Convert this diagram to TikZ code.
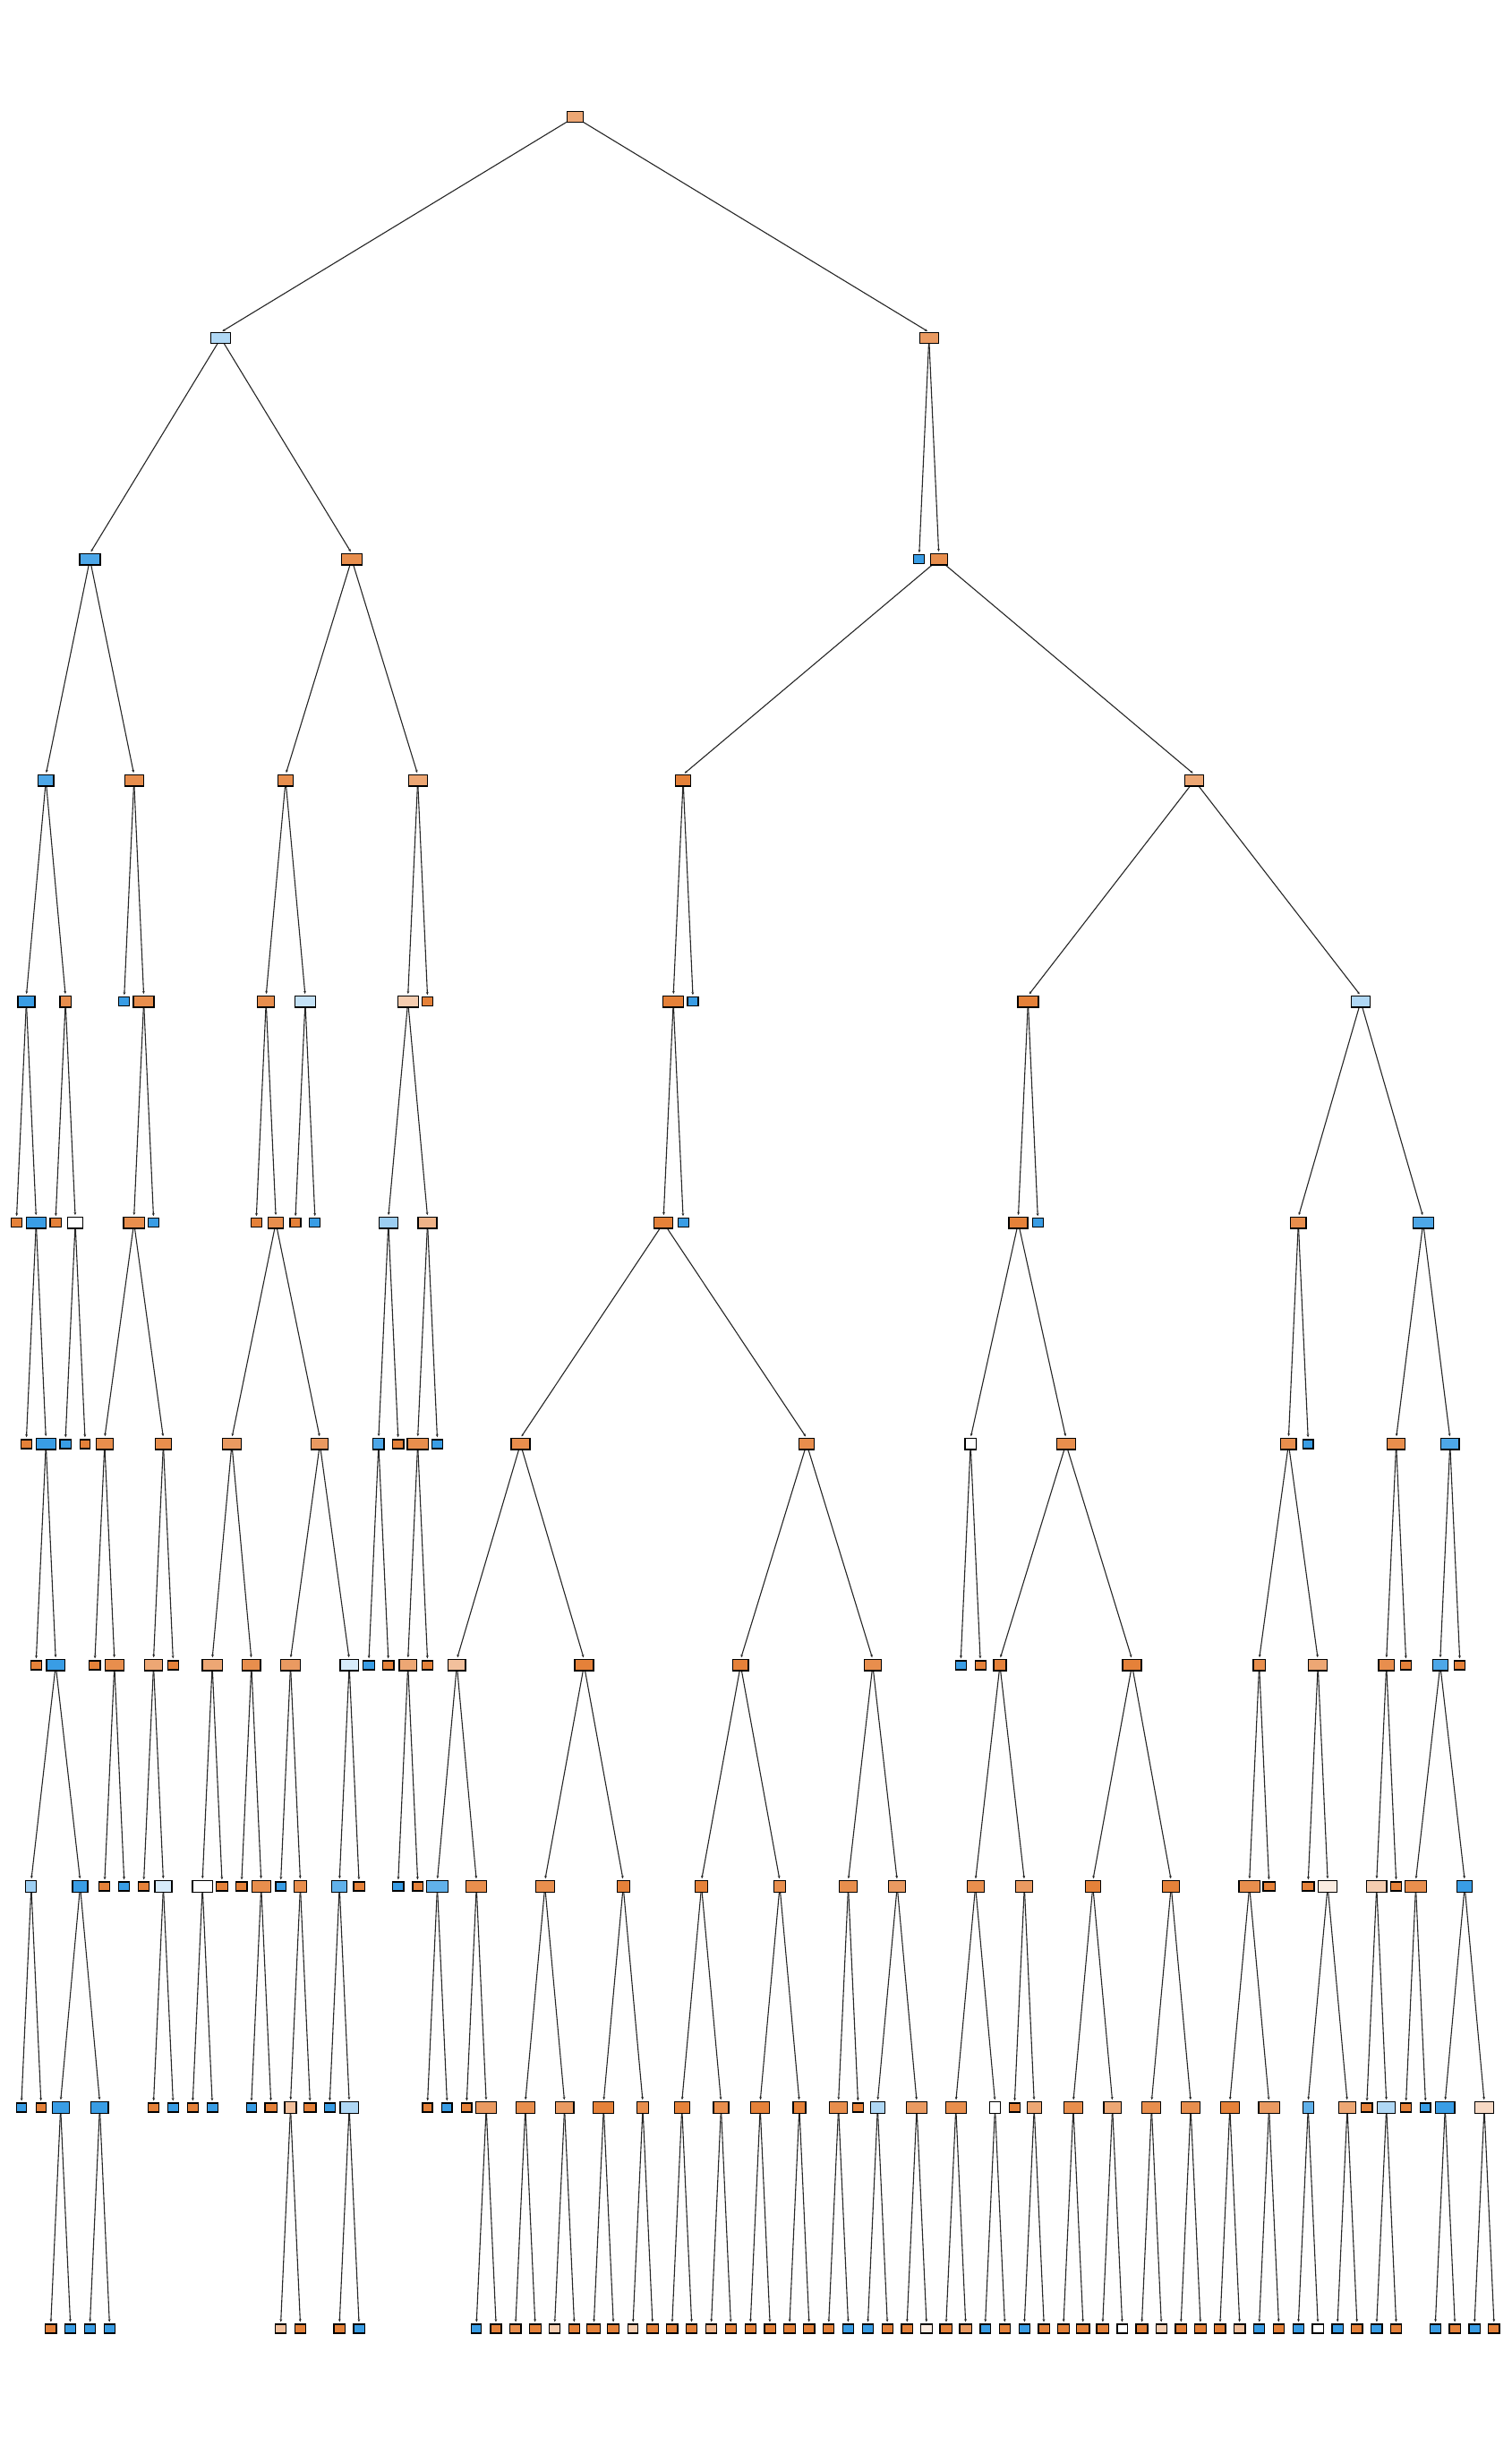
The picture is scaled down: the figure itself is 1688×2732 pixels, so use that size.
\documentclass[tikz,border=0pt]{standalone}
\usetikzlibrary{arrows.meta}
\definecolor{cO}{HTML}{E58139}
\definecolor{cO9}{HTML}{E88E4D}
\definecolor{cO8}{HTML}{EA9A61}
\definecolor{cO7}{HTML}{EDA774}
\definecolor{cO6}{HTML}{EFB388}
\definecolor{cO5}{HTML}{F2C09C}
\definecolor{cO4}{HTML}{F5CDB0}
\definecolor{cO3}{HTML}{F7D9C4}
\definecolor{cO2}{HTML}{FBECE1}
\definecolor{cW}{HTML}{FFFFFF}
\definecolor{cB2}{HTML}{D7EBFA}
\definecolor{cB3}{HTML}{C4E2F7}
\definecolor{cB4}{HTML}{B0D8F5}
\definecolor{cB5}{HTML}{9CCEF2}
\definecolor{cB8}{HTML}{61B1EA}
\definecolor{cB9}{HTML}{4DA7E8}
\definecolor{cB}{HTML}{399DE5}
\pgfdeclarelayer{paper}
\pgfdeclarelayer{edges}
\pgfsetlayers{paper,edges,main}
\tikzset{
  tn/.style={draw=black,line width=0.6pt,inner sep=0pt,rectangle},
  edge/.style={draw=black!85,line width=0.55pt,shorten >=1pt,-{Stealth[length=1.6pt,width=1.4pt]}}
}
\newcommand\tnI[5]{\node[tn,fill=#5,minimum width={#4*0.5pt},minimum height=6.15pt] (#1) at ({18.5+21.86*#2},{130.7+247.03*#3}) {};}
\newcommand\tnL[5]{\node[tn,fill=#5,minimum width={#4*0.5pt},minimum height=5pt] (#1) at ({18.5+21.86*#2},{130.7+247.03*#3}) {};}
\newcommand\tE[2]{\draw[edge] (#1.center) -- (#2.north);}
\begin{document}
\begin{tikzpicture}[x=0.5pt,y=-0.5pt]
\begin{pgfonlayer}{paper}
\fill[white] (0,0) rectangle (1688,2732);
\end{pgfonlayer}
\useasboundingbox (0,0) rectangle (1688,2732);
% level 0
\tnI{r}{28.53125}{0}{18}{cO7}
% level 1
\tnI{a}{10.4375}{1}{21.7}{cB4}
\tnI{b}{46.625}{1}{21}{cO8}
% level 2
\tnI{a1}{3.75}{2}{23}{cB9}
\tnI{a2}{17.125}{2}{23}{cO9}
\tnL{b1}{46.125}{2}{12}{cB}
\tnI{b2}{47.125}{2}{19}{cO9}
% level 3
\tnI{c29}{1.5}{3}{17.5}{cB9}
\tnI{c85}{6}{3}{21}{cO9}
\tnI{c182}{13.75}{3}{17.5}{cO9}
\tnI{c267}{20.5}{3}{21}{cO7}
\tnI{c438}{34.0625}{3}{17.5}{cO}
\tnI{c766}{60.1875}{3}{21}{cO7}
% level 4
\tnI{d16}{0.5}{4}{19}{cB}
\tnI{d41}{2.5}{4}{12.3}{cO9}
\tnL{d79}{5.5}{4}{12}{cB}
\tnI{d92}{6.5}{4}{23}{cO9}
\tnI{d170}{12.75}{4}{19}{cO9}
\tnI{d195}{14.75}{4}{23}{cB3}
\tnI{d261}{20}{4}{23}{cO4}
\tnL{d274}{21}{4}{12}{cO}
\tnI{d431}{33.5625}{4}{23}{cO}
\tnL{d444}{34.5625}{4}{12}{cB}
\tnI{d659}{51.6875}{4}{23}{cO}
\tnI{d873}{68.6875}{4}{21}{cB4}
% level 5
\tnL{e10}{0}{5}{12.3}{cO}
\tnI{e22}{1}{5}{22.3}{cB}
\tnL{e35}{2}{5}{12.3}{cO}
\tnI{e47}{3}{5}{17.3}{cW}
\tnI{e86}{6}{5}{23.3}{cO9}
\tnL{e98}{7}{5}{11.3}{cB}
\tnL{e164}{12.25}{5}{12}{cO}
\tnI{e176}{13.25}{5}{17.5}{cO9}
\tnL{e189}{14.25}{5}{12}{cO}
\tnL{e201}{15.25}{5}{12}{cB}
\tnI{e249}{19}{5}{21}{cB5}
\tnI{e274}{21}{5}{21}{cO6}
\tnI{e425}{33.0625}{5}{21}{cO}
\tnL{e438}{34.0625}{5}{12}{cB}
\tnI{e653}{51.1875}{5}{21}{cO}
\tnL{e665}{52.1875}{5}{12}{cB}
\tnI{e833}{65.5}{5}{17.5}{cO9}
\tnI{e913}{71.875}{5}{23}{cB9}
% level 6
\tnL{f16}{0.5}{6}{12.3}{cO}
\tnI{f29}{1.5}{6}{22.3}{cB}
\tnL{f42}{2.5}{6}{12.3}{cB}
\tnL{f54}{3.5}{6}{11.3}{cO}
\tnI{f66}{4.5}{6}{19.3}{cO9}
\tnI{f104}{7.5}{6}{18.3}{cO9}
\tnI{f148}{11}{6}{21}{cO8}
\tnI{f205}{15.5}{6}{19}{cO8}
\tnI{f243}{18.5}{6}{12.3}{cB9}
\tnL{f255}{19.5}{6}{12.3}{cO}
\tnI{f268}{20.5}{6}{23.3}{cO9}
\tnL{f280}{21.5}{6}{11.3}{cB}
\tnI{f333}{25.75}{6}{21}{cO9}
\tnI{f517}{40.375}{6}{17.5}{cO9}
\tnI{f622}{48.75}{6}{12.3}{cW}
\tnI{f684}{53.625}{6}{21}{cO9}
\tnI{f826}{65}{6}{17.3}{cO9}
\tnL{f839}{66}{6}{11.3}{cB}
\tnI{f896}{70.5}{6}{20.3}{cO9}
\tnI{f930}{73.25}{6}{20.3}{cB9}
% level 7
\tnL{g22}{1}{7}{12.3}{cO}
\tnI{g35}{2}{7}{20.3}{cB}
\tnL{g61}{4}{7}{12.3}{cO}
\tnI{g73}{5}{7}{21.3}{cO9}
\tnI{g98}{7}{7}{19.3}{cO7}
\tnL{g110}{8}{7}{12.3}{cO}
\tnI{g136}{10}{7}{22.3}{cO7}
\tnI{g161}{12}{7}{20.3}{cO9}
\tnI{g186}{14}{7}{21.3}{cO8}
\tnI{g223}{17}{7}{20.3}{cB2}
\tnL{g236}{18}{7}{12.3}{cB}
\tnL{g249}{19}{7}{12.3}{cO}
\tnI{g261}{20}{7}{19.3}{cO7}
\tnL{g274}{21}{7}{12.3}{cO}
\tnI{g293}{22.5}{7}{19.3}{cO5}
\tnI{g374}{29}{7}{21}{cO}
\tnI{g475}{37}{7}{17.5}{cO}
\tnI{g560}{43.75}{7}{19}{cO9}
\tnL{g616}{48.25}{7}{12}{cB}
\tnL{g629}{49.25}{7}{12}{cO}
\tnI{g641}{50.25}{7}{14}{cO}
\tnI{g726}{57}{7}{21}{cO}
\tnI{g807}{63.5}{7}{13.3}{cO9}
\tnI{g846}{66.5}{7}{21.3}{cO7}
\tnI{g889}{70}{7}{17.3}{cO9}
\tnL{g902}{71}{7}{12.3}{cO}
\tnI{g924}{72.75}{7}{17.3}{cB9}
\tnL{g937}{73.75}{7}{12.3}{cO}
% level 8
\tnI{h19}{0.75}{8}{12}{cB5}
\tnI{h51}{3.25}{8}{17}{cB}
\tnL{h67}{4.5}{8}{12}{cO}
\tnL{h79}{5.5}{8}{12}{cB}
\tnL{h92}{6.5}{8}{12}{cO}
\tnI{h104}{7.5}{8}{19}{cB2}
\tnI{h130}{9.5}{8}{22.3}{cW}
\tnL{h142}{10.5}{8}{12.3}{cO}
\tnL{h155}{11.5}{8}{12.3}{cO}
\tnI{h167}{12.5}{8}{21.3}{cO9}
\tnL{h180}{13.5}{8}{11.3}{cB}
\tnI{h192}{14.5}{8}{13.3}{cO9}
\tnI{h218}{16.5}{8}{17.3}{cB8}
\tnL{h230}{17.5}{8}{12.3}{cO}
\tnL{h255}{19.5}{8}{12.3}{cB}
\tnL{h268}{20.5}{8}{11.3}{cO}
\tnI{h281}{21.5}{8}{23.3}{cB8}
\tnI{h305}{23.5}{8}{23.3}{cO9}
\tnI{h349}{27}{8}{21}{cO9}
\tnI{h400}{31}{8}{14}{cO}
\tnI{h450}{35}{8}{14}{cO}
\tnI{h500}{39}{8}{12.5}{cO9}
\tnI{h544}{42.5}{8}{20.3}{cO9}
\tnI{h575}{45}{8}{19.3}{cO8}
\tnI{h626}{49}{8}{19}{cO9}
\tnI{h657}{51.5}{8}{19}{cO8}
\tnI{h701}{55}{8}{17}{cO}
\tnI{h751}{59}{8}{19}{cO}
\tnI{h801}{63}{8}{23.3}{cO9}
\tnL{h814}{64}{8}{13.3}{cO}
\tnL{h839}{66}{8}{13.3}{cO}
\tnI{h852}{67}{8}{21.3}{cO2}
\tnI{h883}{69.5}{8}{22.3}{cO4}
\tnL{h896}{70.5}{8}{12.3}{cO}
\tnI{h908}{71.5}{8}{23.3}{cO9}
\tnI{h940}{74}{8}{17.3}{cB}
% level 9
\tnL{i13}{0.25}{9}{11.3}{cB}
\tnL{i26}{1.25}{9}{11.3}{cO}
\tnI{i38}{2.25}{9}{19}{cB}
\tnI{i63}{4.25}{9}{19.3}{cB}
\tnL{i98}{7}{9}{11.3}{cO}
\tnL{i110}{8}{9}{12}{cB}
\tnL{i123}{9}{9}{12}{cO}
\tnL{i136}{10}{9}{12}{cB}
\tnL{i160}{12}{9}{11.3}{cB}
\tnL{i173}{13}{9}{13.3}{cO}
\tnI{i186}{14}{9}{13}{cO5}
\tnL{i199}{15}{9}{13.3}{cO}
\tnL{i211}{16}{9}{12.3}{cB}
\tnI{i224}{17}{9}{20.3}{cB4}
\tnL{i274}{21}{9}{11}{cO}
\tnL{i287}{22}{9}{11.3}{cB}
\tnL{i299}{23}{9}{11.3}{cO}
\tnI{i312}{24}{9}{23}{cO8}
\tnI{i337}{26}{9}{21.3}{cO9}
\tnI{i362}{28}{9}{20.7}{cO8}
\tnI{i387}{30}{9}{23}{cO}
\tnI{i412}{32}{9}{13.3}{cO9}
\tnI{i437}{34}{9}{17}{cO}
\tnI{i462}{36}{9}{17}{cO9}
\tnI{i487}{38}{9}{21}{cO}
\tnI{i512}{40}{9}{14}{cO}
\tnI{i538}{42}{9}{20.3}{cO9}
\tnL{i550}{43}{9}{12.3}{cO}
\tnI{i563}{44}{9}{16.3}{cB4}
\tnI{i588}{46}{9}{23.3}{cO8}
\tnI{i613}{48}{9}{23}{cO9}
\tnI{i638}{50}{9}{12.3}{cW}
\tnL{i651}{51}{9}{12}{cO}
\tnI{i663}{52}{9}{16}{cO7}
\tnI{i688}{54}{9}{21}{cO9}
\tnI{i713}{56}{9}{19.3}{cO7}
\tnI{i738}{58}{9}{21}{cO9}
\tnI{i764}{60}{9}{21}{cO9}
\tnI{i789}{62}{9}{21}{cO}
\tnI{i814}{64}{9}{23.3}{cO8}
\tnI{i839}{66}{9}{11.7}{cB8}
\tnI{i864}{68}{9}{19.3}{cO7}
\tnL{i877}{69}{9}{12.3}{cO}
\tnI{i889}{70}{9}{20.3}{cB4}
\tnL{i902}{71}{9}{12.3}{cO}
\tnL{i914}{72}{9}{11.3}{cB}
\tnI{i927}{73}{9}{21.3}{cB}
\tnI{i952}{75}{9}{20.3}{cO3}
% level 10
\tnL{j32}{1.75}{10}{12.3}{cO}
\tnL{j44}{2.75}{10}{12.3}{cB}
\tnL{j57}{3.75}{10}{12.3}{cB}
\tnL{j69}{4.75}{10}{12.3}{cB}
\tnL{j180}{13.5}{10}{12.3}{cO5}
\tnL{j193}{14.5}{10}{12.3}{cO}
\tnL{j218}{16.5}{10}{12.3}{cO}
\tnL{j230}{17.5}{10}{12.3}{cB}
\tnL{j305}{23.5}{10}{11.3}{cB}
\tnL{j318}{24.5}{10}{12}{cO}
\tnL{j331}{25.5}{10}{12.3}{cO9}
\tnL{j343}{26.5}{10}{13.3}{cO}
\tnL{j356}{27.5}{10}{12.3}{cO4}
\tnL{j368}{28.5}{10}{12.3}{cO}
\tnL{j381}{29.5}{10}{15}{cO}
\tnL{j393}{30.5}{10}{13}{cO}
\tnL{j406}{31.5}{10}{11}{cO4}
\tnL{j418}{32.5}{10}{12.3}{cO}
\tnL{j431}{33.5}{10}{12.3}{cO}
\tnL{j444}{34.5}{10}{12.3}{cO}
\tnL{j456}{35.5}{10}{12.3}{cO6}
\tnL{j469}{36.5}{10}{12.3}{cO}
\tnL{j481}{37.5}{10}{12.3}{cO}
\tnL{j494}{38.5}{10}{12.3}{cO}
\tnL{j506}{39.5}{10}{12.3}{cO}
\tnL{j519}{40.5}{10}{12.3}{cO}
\tnL{j531}{41.5}{10}{12.3}{cO}
\tnL{j544}{42.5}{10}{12.3}{cB}
\tnL{j557}{43.5}{10}{12.3}{cB}
\tnL{j569}{44.5}{10}{12.3}{cO}
\tnL{j582}{45.5}{10}{12.3}{cO}
\tnL{j594}{46.5}{10}{12.3}{cO2}
\tnL{j607}{47.5}{10}{13.7}{cO}
\tnL{j619}{48.5}{10}{13.3}{cO8}
\tnL{j632}{49.5}{10}{11.3}{cB}
\tnL{j644}{50.5}{10}{12.3}{cO}
\tnL{j657}{51.5}{10}{12}{cB}
\tnL{j669}{52.5}{10}{12.3}{cO}
\tnL{j682}{53.5}{10}{13.3}{cO}
\tnL{j695}{54.5}{10}{14.3}{cO}
\tnL{j707}{55.5}{10}{13.3}{cO}
\tnL{j720}{56.5}{10}{11.3}{cW}
\tnL{j732}{57.5}{10}{13}{cO}
\tnL{j745}{58.5}{10}{12.3}{cO4}
\tnL{j757}{59.5}{10}{12.3}{cO}
\tnL{j770}{60.5}{10}{12.3}{cO}
\tnL{j783}{61.5}{10}{12.3}{cO}
\tnL{j795}{62.5}{10}{12.3}{cO5}
\tnL{j808}{63.5}{10}{12.3}{cB}
\tnL{j820}{64.5}{10}{12.3}{cO}
\tnL{j833}{65.5}{10}{12.3}{cB}
\tnL{j846}{66.5}{10}{12.3}{cW}
\tnL{j858}{67.5}{10}{12.3}{cB}
\tnL{j871}{68.5}{10}{12.3}{cO}
\tnL{j883}{69.5}{10}{12.3}{cB}
\tnL{j896}{70.5}{10}{12.3}{cO}
\tnL{j921}{72.5}{10}{12.3}{cB}
\tnL{j934}{73.5}{10}{12.3}{cO}
\tnL{j946}{74.5}{10}{12.3}{cB}
\tnL{j959}{75.5}{10}{12.3}{cO}
\begin{pgfonlayer}{edges}
\tE{r}{a}\tE{r}{b}
\tE{a}{a1}\tE{a}{a2}
\tE{b}{b1}\tE{b}{b2}
\tE{a1}{c29}\tE{a1}{c85}
\tE{a2}{c182}\tE{a2}{c267}
\tE{b2}{c438}\tE{b2}{c766}
\tE{c29}{d16}\tE{c29}{d41}
\tE{c85}{d79}\tE{c85}{d92}
\tE{c182}{d170}\tE{c182}{d195}
\tE{c267}{d261}\tE{c267}{d274}
\tE{c438}{d431}\tE{c438}{d444}
\tE{c766}{d659}\tE{c766}{d873}
\tE{d16}{e10}\tE{d16}{e22}
\tE{d41}{e35}\tE{d41}{e47}
\tE{d92}{e86}\tE{d92}{e98}
\tE{d170}{e164}\tE{d170}{e176}
\tE{d195}{e189}\tE{d195}{e201}
\tE{d261}{e249}\tE{d261}{e274}
\tE{d431}{e425}\tE{d431}{e438}
\tE{d659}{e653}\tE{d659}{e665}
\tE{d873}{e833}\tE{d873}{e913}
\tE{e22}{f16}\tE{e22}{f29}
\tE{e47}{f42}\tE{e47}{f54}
\tE{e86}{f66}\tE{e86}{f104}
\tE{e176}{f148}\tE{e176}{f205}
\tE{e249}{f243}\tE{e249}{f255}
\tE{e274}{f268}\tE{e274}{f280}
\tE{e425}{f333}\tE{e425}{f517}
\tE{e653}{f622}\tE{e653}{f684}
\tE{e833}{f826}\tE{e833}{f839}
\tE{e913}{f896}\tE{e913}{f930}
\tE{f29}{g22}\tE{f29}{g35}
\tE{f66}{g61}\tE{f66}{g73}
\tE{f104}{g98}\tE{f104}{g110}
\tE{f148}{g136}\tE{f148}{g161}
\tE{f205}{g186}\tE{f205}{g223}
\tE{f243}{g236}\tE{f243}{g249}
\tE{f268}{g261}\tE{f268}{g274}
\tE{f333}{g293}\tE{f333}{g374}
\tE{f517}{g475}\tE{f517}{g560}
\tE{f622}{g616}\tE{f622}{g629}
\tE{f684}{g641}\tE{f684}{g726}
\tE{f826}{g807}\tE{f826}{g846}
\tE{f896}{g889}\tE{f896}{g902}
\tE{f930}{g924}\tE{f930}{g937}
\tE{g35}{h19}\tE{g35}{h51}
\tE{g73}{h67}\tE{g73}{h79}
\tE{g98}{h92}\tE{g98}{h104}
\tE{g136}{h130}\tE{g136}{h142}
\tE{g161}{h155}\tE{g161}{h167}
\tE{g186}{h180}\tE{g186}{h192}
\tE{g223}{h218}\tE{g223}{h230}
\tE{g261}{h255}\tE{g261}{h268}
\tE{g293}{h281}\tE{g293}{h305}
\tE{g374}{h349}\tE{g374}{h400}
\tE{g475}{h450}\tE{g475}{h500}
\tE{g560}{h544}\tE{g560}{h575}
\tE{g641}{h626}\tE{g641}{h657}
\tE{g726}{h701}\tE{g726}{h751}
\tE{g807}{h801}\tE{g807}{h814}
\tE{g846}{h839}\tE{g846}{h852}
\tE{g889}{h883}\tE{g889}{h896}
\tE{g924}{h908}\tE{g924}{h940}
\tE{h19}{i13}\tE{h19}{i26}
\tE{h51}{i38}\tE{h51}{i63}
\tE{h104}{i98}\tE{h104}{i110}
\tE{h130}{i123}\tE{h130}{i136}
\tE{h167}{i160}\tE{h167}{i173}
\tE{h192}{i186}\tE{h192}{i199}
\tE{h218}{i211}\tE{h218}{i224}
\tE{h281}{i274}\tE{h281}{i287}
\tE{h305}{i299}\tE{h305}{i312}
\tE{h349}{i337}\tE{h349}{i362}
\tE{h400}{i387}\tE{h400}{i412}
\tE{h450}{i437}\tE{h450}{i462}
\tE{h500}{i487}\tE{h500}{i512}
\tE{h544}{i538}\tE{h544}{i550}
\tE{h575}{i563}\tE{h575}{i588}
\tE{h626}{i613}\tE{h626}{i638}
\tE{h657}{i651}\tE{h657}{i663}
\tE{h701}{i688}\tE{h701}{i713}
\tE{h751}{i738}\tE{h751}{i764}
\tE{h801}{i789}\tE{h801}{i814}
\tE{h852}{i839}\tE{h852}{i864}
\tE{h883}{i877}\tE{h883}{i889}
\tE{h908}{i902}\tE{h908}{i914}
\tE{h940}{i927}\tE{h940}{i952}
\tE{i38}{j32}\tE{i38}{j44}
\tE{i63}{j57}\tE{i63}{j69}
\tE{i186}{j180}\tE{i186}{j193}
\tE{i224}{j218}\tE{i224}{j230}
\tE{i312}{j305}\tE{i312}{j318}
\tE{i337}{j331}\tE{i337}{j343}
\tE{i362}{j356}\tE{i362}{j368}
\tE{i387}{j381}\tE{i387}{j393}
\tE{i412}{j406}\tE{i412}{j418}
\tE{i437}{j431}\tE{i437}{j444}
\tE{i462}{j456}\tE{i462}{j469}
\tE{i487}{j481}\tE{i487}{j494}
\tE{i512}{j506}\tE{i512}{j519}
\tE{i538}{j531}\tE{i538}{j544}
\tE{i563}{j557}\tE{i563}{j569}
\tE{i588}{j582}\tE{i588}{j594}
\tE{i613}{j607}\tE{i613}{j619}
\tE{i638}{j632}\tE{i638}{j644}
\tE{i663}{j657}\tE{i663}{j669}
\tE{i688}{j682}\tE{i688}{j695}
\tE{i713}{j707}\tE{i713}{j720}
\tE{i738}{j732}\tE{i738}{j745}
\tE{i764}{j757}\tE{i764}{j770}
\tE{i789}{j783}\tE{i789}{j795}
\tE{i814}{j808}\tE{i814}{j820}
\tE{i839}{j833}\tE{i839}{j846}
\tE{i864}{j858}\tE{i864}{j871}
\tE{i889}{j883}\tE{i889}{j896}
\tE{i927}{j921}\tE{i927}{j934}
\tE{i952}{j946}\tE{i952}{j959}
\end{pgfonlayer}
\end{tikzpicture}
\end{document}
